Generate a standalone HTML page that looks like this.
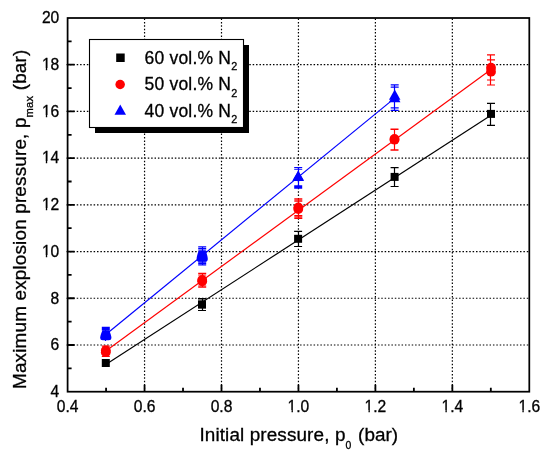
<!DOCTYPE html><html><head><meta charset="utf-8"><title>Maximum explosion pressure vs initial pressure</title><style>html,body{margin:0;padding:0;background:#fff;}svg{display:block;}text{font-family:"Liberation Sans",Arial,sans-serif;fill:#000;stroke:#000;stroke-width:0.3px;}</style></head><body>
<svg width="550" height="456" viewBox="0 0 550 456">
<rect x="0" y="0" width="550" height="456" fill="#fff"/>
<path d="M144.55 18.566V390.70M221.50 18.566V390.70M298.45 18.566V390.70M375.40 18.566V390.70M452.35 18.566V390.70M66.556 344.99H528.30M66.556 298.27H528.30M66.556 251.56H528.30M66.556 204.85H528.30M66.556 158.14H528.30M66.556 111.43H528.30M66.556 64.71H528.30" stroke="#000" stroke-width="1.2" stroke-dasharray="1.5 1.884" fill="none"/>
<path d="M106.07 391.70V387.70M144.55 391.70V384.70M183.02 391.70V387.70M221.50 391.70V384.70M259.97 391.70V387.70M298.45 391.70V384.70M336.92 391.70V387.70M375.40 391.70V384.70M413.88 391.70V387.70M452.35 391.70V384.70M490.82 391.70V387.70M67.60 368.34H71.60M67.60 344.99H74.60M67.60 321.63H71.60M67.60 298.27H74.60M67.60 274.92H71.60M67.60 251.56H74.60M67.60 228.21H71.60M67.60 204.85H74.60M67.60 181.49H71.60M67.60 158.14H74.60M67.60 134.78H71.60M67.60 111.43H74.60M67.60 88.07H71.60M67.60 64.71H74.60M67.60 41.36H71.60" stroke="#000" stroke-width="1.8" fill="none"/>
<rect x="67.60" y="18.00" width="461.70" height="373.70" fill="none" stroke="#000" stroke-width="1.75"/>
<text x="59.25" y="397.00" font-size="15.6" text-anchor="end">4</text>
<text x="59.25" y="350.29" font-size="15.6" text-anchor="end">6</text>
<text x="59.25" y="303.57" font-size="15.6" text-anchor="end">8</text>
<text x="59.25" y="256.86" font-size="15.6" text-anchor="end">10</text>
<text x="59.25" y="210.15" font-size="15.6" text-anchor="end">12</text>
<text x="59.25" y="163.44" font-size="15.6" text-anchor="end">14</text>
<text x="59.25" y="116.73" font-size="15.6" text-anchor="end">16</text>
<text x="59.25" y="70.01" font-size="15.6" text-anchor="end">18</text>
<text x="59.25" y="23.30" font-size="15.6" text-anchor="end">20</text>
<text x="67.60" y="412.3" font-size="15.6" text-anchor="middle">0.4</text>
<text x="144.55" y="412.3" font-size="15.6" text-anchor="middle">0.6</text>
<text x="221.50" y="412.3" font-size="15.6" text-anchor="middle">0.8</text>
<text x="298.45" y="412.3" font-size="15.6" text-anchor="middle">1.0</text>
<text x="375.40" y="412.3" font-size="15.6" text-anchor="middle">1.2</text>
<text x="452.35" y="412.3" font-size="15.6" text-anchor="middle">1.4</text>
<text x="529.30" y="412.3" font-size="15.6" text-anchor="middle">1.6</text>
<path d="M42 255H45.82V258H42ZM47.20 255H51V258H47.20ZM42 208H45.82V211H42ZM47.20 208H51V211H47.20ZM42 161H45.82V164H42ZM47.20 161H51V164H47.20ZM42 115H45.82V118H42ZM47.20 115H51V118H47.20ZM42 68H45.82V71H42ZM47.20 68H51V71H47.20ZM288 410H291.53V413H288ZM292.91 410H296V413H292.91ZM365 410H368.48V413H365ZM369.86 410H373V413H369.86ZM442 410H445.43V413H442ZM446.81 410H450V413H446.81ZM519 410H522.38V413H519ZM523.76 410H527V413H523.76Z" fill="#fff"/>
<text x="199.4" y="441.3" font-size="18.9" letter-spacing="0.12">Initial pressure, p<tspan font-size="10.4" dy="7.4">0</tspan></text>
<text x="358.1" y="441.3" font-size="18.9">(bar)</text>
<text transform="translate(26.25 389.0) rotate(-90)" font-size="18.9" letter-spacing="0.17">Maximum explosion pressure, p<tspan font-size="11.2" dy="7.1">max</tspan><tspan dy="-7.1"> (bar)</tspan></text>
<path d="M105.8 364.6L491.0 115.2" stroke="#000" stroke-width="1.2" fill="none"/>
<path d="M105.8 351.0L491.0 69.5" stroke="#ff0000" stroke-width="1.2" fill="none"/>
<path d="M105.8 334.5L394.7 98.1" stroke="#0000ff" stroke-width="1.2" fill="none"/>
<defs><filter id="sb" x="-5%" y="-5%" width="110%" height="110%"><feGaussianBlur stdDeviation="0.45"/></filter></defs>
<g filter="url(#sb)">
<rect x="101.80" y="359.00" width="8.0" height="8.0" fill="#000"/>
<path d="M201.90 298.00h1.2V310.90h-1.2ZM198.00 298.00h8V299.10h-8ZM198.00 299.60h8V300.50h-8ZM198.00 309.90h8V310.90h-8Z" fill="#000"/>
<rect x="198.00" y="300.65" width="8.0" height="8.0" fill="#000"/>
<path d="M297.90 230.80h1.2V247.10h-1.2ZM294.10 230.80h8V232.00h-8ZM294.10 245.90h8V247.10h-8Z" fill="#000"/>
<rect x="294.10" y="234.80" width="8.0" height="8.0" fill="#000"/>
<path d="M393.90 167.10h1.2V187.10h-1.2ZM390.60 167.10h8V168.30h-8ZM390.60 185.90h8V187.10h-8Z" fill="#000"/>
<rect x="390.60" y="172.90" width="8.0" height="8.0" fill="#000"/>
<path d="M489.90 102.70h1.2V125.90h-1.2ZM487.00 102.70h8V103.90h-8ZM487.00 124.70h8V125.90h-8Z" fill="#000"/>
<rect x="487.00" y="109.90" width="8.0" height="8.0" fill="#000"/>
<path d="M104.90 345.60h1.2V357.10h-1.2ZM101.80 345.60h8V346.80h-8ZM101.80 355.90h8V357.10h-8Z" fill="#ff0000"/>
<circle cx="105.80" cy="350.40" r="4.9" fill="#ff0000"/>
<circle cx="105.80" cy="352.20" r="4.9" fill="#ff0000"/>
<path d="M201.90 272.80h1.2V287.80h-1.2ZM198.20 272.80h8V274.00h-8ZM198.20 274.40h8V275.50h-8ZM198.20 285.40h8V286.50h-8ZM198.20 286.80h8V287.80h-8Z" fill="#ff0000"/>
<circle cx="202.20" cy="280.00" r="4.9" fill="#ff0000"/>
<circle cx="202.20" cy="281.30" r="4.9" fill="#ff0000"/>
<path d="M297.90 198.30h1.2V219.00h-1.2ZM294.30 198.30h8V199.80h-8ZM294.30 200.30h8V201.80h-8ZM294.30 215.10h8V216.80h-8ZM294.30 217.30h8V219.00h-8Z" fill="#ff0000"/>
<circle cx="298.30" cy="207.50" r="4.9" fill="#ff0000"/>
<circle cx="298.30" cy="209.00" r="4.9" fill="#ff0000"/>
<path d="M393.90 128.40h1.2V150.80h-1.2ZM390.50 128.40h8V129.90h-8ZM390.50 149.20h8V150.80h-8Z" fill="#ff0000"/>
<circle cx="394.50" cy="138.90" r="4.9" fill="#ff0000"/>
<circle cx="394.50" cy="139.70" r="4.9" fill="#ff0000"/>
<path d="M489.90 54.30h1.2V85.60h-1.2ZM487.00 54.30h8V55.50h-8ZM487.00 59.20h8V60.40h-8ZM487.00 79.40h8V80.60h-8ZM487.00 84.40h8V85.60h-8Z" fill="#ff0000"/>
<circle cx="491.00" cy="67.70" r="4.9" fill="#ff0000"/>
<circle cx="491.00" cy="71.70" r="4.9" fill="#ff0000"/>
<path d="M104.90 326.80h1.2V341.00h-1.2ZM101.80 326.80h8V330.40h-8ZM101.80 340.90h8V341.00h-8Z" fill="#0000ff"/>
<path d="M102.40 330.20L109.20 330.20C110.40 333.20 111.40 335.70 111.40 337.70C111.40 339.40 110.40 340.20 108.80 340.20L102.80 340.20C101.20 340.20 100.20 339.40 100.20 337.70C100.20 335.70 101.20 333.20 102.40 330.20Z" fill="#0000ff"/>
<path d="M201.90 246.30h1.2V265.60h-1.2ZM198.20 246.30h8V247.50h-8ZM198.20 247.90h8V249.10h-8ZM198.20 249.50h8V250.60h-8ZM198.20 261.60h8V262.70h-8ZM198.20 263.10h8V264.20h-8ZM198.20 264.60h8V265.60h-8Z" fill="#0000ff"/>
<path d="M198.80 250.60L205.60 250.60C206.80 253.96 207.80 256.76 207.80 259.00C207.80 260.90 206.80 261.80 205.20 261.80L199.20 261.80C197.60 261.80 196.60 260.90 196.60 259.00C196.60 256.76 197.60 253.96 198.80 250.60Z" fill="#0000ff"/>
<path d="M297.90 167.00h1.2V188.80h-1.2ZM294.20 167.00h8V167.90h-8ZM294.20 168.80h8V169.70h-8ZM294.20 185.30h8V188.80h-8Z" fill="#0000ff"/>
<path d="M298.20 170.40L303.95 180.60L292.45 180.60Z" fill="#0000ff"/>
<path d="M298.20 170.90L303.95 181.10L292.45 181.10Z" fill="#0000ff"/>
<path d="M393.90 84.25h1.2V110.90h-1.2ZM390.70 84.25h8V85.50h-8ZM390.70 86.60h8V87.80h-8ZM390.70 107.20h8V108.40h-8ZM390.70 109.70h8V110.90h-8Z" fill="#0000ff"/>
<path d="M394.70 89.60L400.45 99.80L388.95 99.80Z" fill="#0000ff"/>
<path d="M394.70 92.10L400.45 102.30L388.95 102.30Z" fill="#0000ff"/>
</g>
<rect x="95" y="45" width="154" height="88" fill="#000"/>
<rect x="89.5" y="39.5" width="154" height="88" fill="#fff" stroke="#000" stroke-width="1.1"/>
<rect x="116.20" y="53.50" width="8.5" height="8.5" fill="#000"/>
<circle cx="120.15" cy="84.5" r="4.75" fill="#ff0000"/>
<path d="M120.25 104.6L126 114.8L114.5 114.8Z" fill="#0000ff"/>
<text x="144.56" y="63.60" font-size="17.5" letter-spacing="0.2">60 vol.% N<tspan font-size="10.8" dy="6.35" dx="0">2</tspan></text>
<text x="144.56" y="90.25" font-size="17.5" letter-spacing="0.2">50 vol.% N<tspan font-size="10.8" dy="6.35" dx="0">2</tspan></text>
<text x="144.56" y="116.90" font-size="17.5" letter-spacing="0.2">40 vol.% N<tspan font-size="10.8" dy="6.35" dx="0">2</tspan></text>
</svg></body></html>
